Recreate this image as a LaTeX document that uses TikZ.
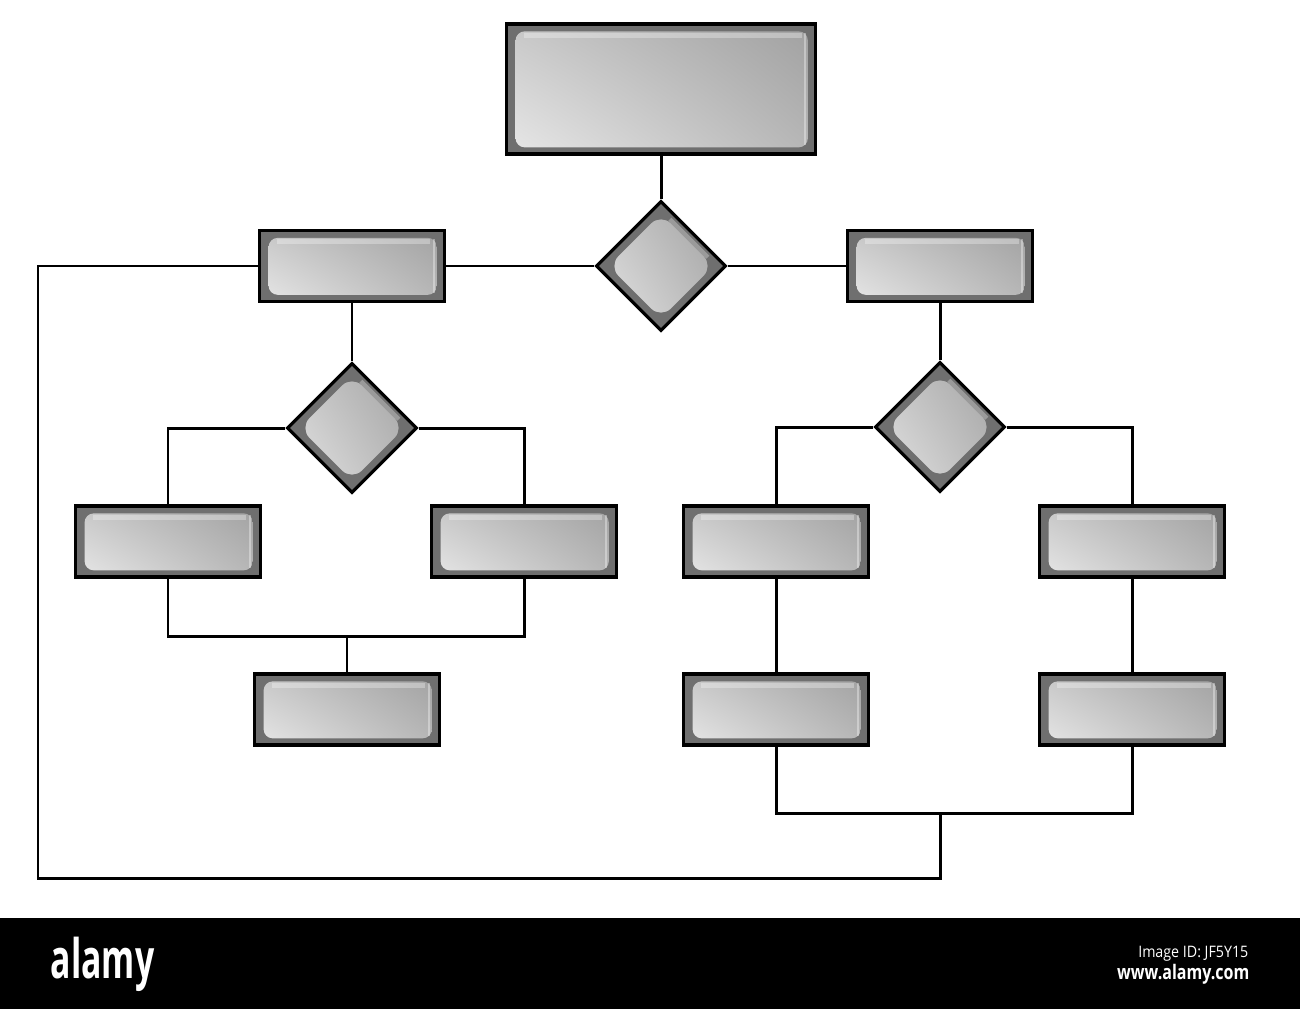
\documentclass[tikz,border=0pt]{standalone}
\usepackage{fontspec}
\newfontfamily\bandfont{Open Sans}
\usetikzlibrary{shapes.geometric,shadings}
\definecolor{rimgray}{HTML}{6F6F6F}
\definecolor{glossA}{HTML}{C8C8C8}
\definecolor{glossB}{HTML}{A0A0A0}
\definecolor{glossC}{HTML}{E8E8E8}
\definecolor{glossD}{HTML}{B6B6B6}

\begin{document}
\begin{tikzpicture}[x=0.01cm,y=-0.01cm,
  wire/.style={line width=0.85pt},
  gbox/.style={rectangle,draw=black,line width=0.9pt,fill=rimgray,inner sep=0pt,
    minimum width=1.85cm,minimum height=0.71cm,
    path picture={
      \shade[rounded corners=2.6pt,upper left=glossA,upper right=glossB,lower left=glossC,lower right=glossD]
        ([shift={(2.6pt,1.9pt)}]path picture bounding box.south west) rectangle
        ([shift={(-2.2pt,-2.1pt)}]path picture bounding box.north east);
      \draw[white,opacity=.3,line width=1.3pt]
        ([shift={(5pt,-3.2pt)}]path picture bounding box.north west) --
        ([shift={(-4pt,-3.2pt)}]path picture bounding box.north east);
      \draw[white,opacity=.35,line width=.8pt]
        ([shift={(-3pt,-2.5pt)}]path picture bounding box.north east) --
        ([shift={(-3pt,2.5pt)}]path picture bounding box.south east);
    }},
  bigbox/.style={gbox,minimum width=3.09cm,minimum height=1.30cm},
  gdia/.style={diamond,aspect=1,draw=black,line width=0.9pt,fill=rimgray,inner sep=0pt,
    minimum size=1.30cm,
    path picture={
      \shade[rounded corners=4pt,upper left=glossA,upper right=glossB,lower left=glossC,lower right=glossD]
        ([yshift=-3.4pt]path picture bounding box.north) --
        ([xshift=-3.4pt]path picture bounding box.east) --
        ([yshift=3.4pt]path picture bounding box.south) --
        ([xshift=3.4pt]path picture bounding box.west) -- cycle;
      \draw[white,opacity=.3,line width=1.2pt]
        ([shift={(2.5pt,-5pt)}]path picture bounding box.north) --
        ([shift={(-5pt,2.5pt)}]path picture bounding box.east);
    }}]
\useasboundingbox (0,0) rectangle (1300,1009);
\fill[white] (0,0) rectangle (1300,1009);

% boxes and decisions
\node[bigbox] (start) at (661,89) {};
\node[gdia] (topdia) at (661,266) {};
\node[gbox] (left) at (352,266) {};
\node[gbox] (right) at (940,266) {};
\node[gdia] (ldia) at (352,428) {};
\node[gdia] (rdia) at (940,427) {};
\node[gbox] (ll) at (168,541.5) {};
\node[gbox] (lr) at (524,541.5) {};
\node[gbox] (rl) at (776,541.5) {};
\node[gbox] (rr) at (1132,541.5) {};
\node[gbox] (lbot) at (347,709.5) {};
\node[gbox] (rl2) at (776,709.5) {};
\node[gbox] (rr2) at (1132,709.5) {};

\coordinate (ljoin) at (347,636);
\coordinate (rjoin) at (940,813);
\coordinate (corner) at (38,878);

% connectors
\draw[wire] (start) -- (topdia);
\draw[wire] (left) -- (topdia) -- (right);
\draw[wire] (left) -- (ldia);
\draw[wire] (right) -- (rdia);
\draw[wire] (ldia.west) -| (ll);
\draw[wire] (ldia.east) -| (lr);
\draw[wire] (ll.south) |- (ljoin) -| (lr.south);
\draw[wire] (ljoin) -- (lbot);
\draw[wire] (rdia.west) -| (rl);
\draw[wire] (rdia.east) -| (rr);
\draw[wire] (rl) -- (rl2);
\draw[wire] (rr) -- (rr2);
\draw[wire] (rl2.south) |- (rjoin) -| (rr2.south);
\draw[wire] (left.west) -| (corner) -| (rjoin);

% band
\fill[black] (0,918) rectangle (1300,1009);
\node[anchor=base west,inner sep=0pt,text=white,font=\bandfont\bfseries\fontsize{15.5pt}{17pt}\selectfont] (logo) at (50,978) {\scalebox{0.62}[1]{alamy}};
\node[anchor=base east,inner sep=0pt,text=white,font=\bandfont\fontsize{4.5pt}{5pt}\selectfont] (imgid) at (1249,957) {\scalebox{0.9}[1]{Image ID: JF5Y15}};
\node[anchor=base east,inner sep=0pt,text=white,font=\bandfont\bfseries\fontsize{5.7pt}{6.5pt}\selectfont] (site) at (1250,979) {\scalebox{0.8}[1]{www.alamy.com}};
\end{tikzpicture}
\end{document}
